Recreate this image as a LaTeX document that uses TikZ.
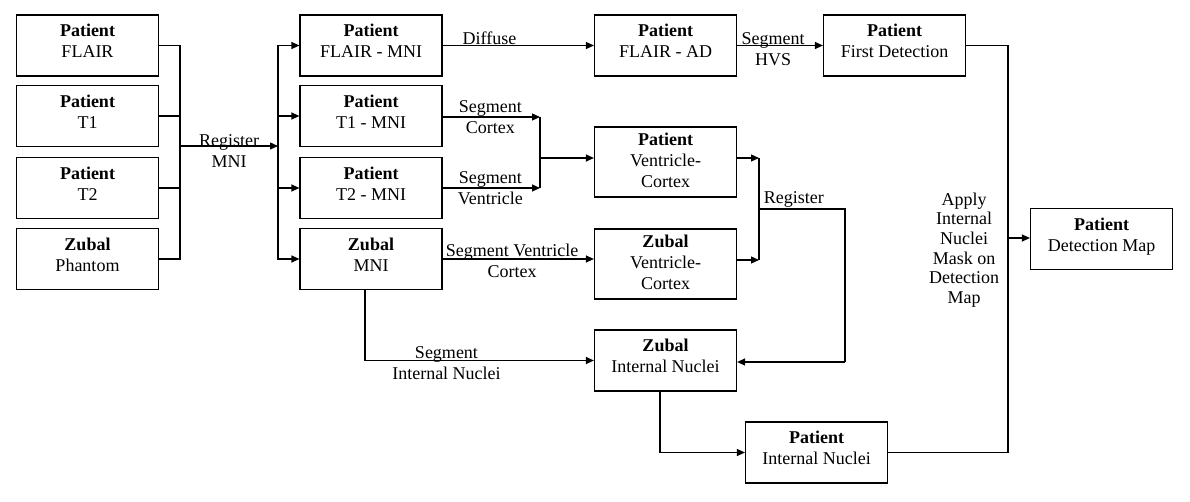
\documentclass[tikz,border=0pt]{standalone}
\usepackage{fontspec}
\setmainfont{Liberation Serif}
\usetikzlibrary{arrows.meta}
\begin{document}
\begin{tikzpicture}[x=1pt,y=-1pt,
  box/.style={draw, line width=1.2pt, minimum width=142pt, minimum height=61pt, inner sep=0pt, align=center, text depth=9pt, font=\fontsize{18}{21}\selectfont},
  tallbox/.style={box, minimum height=70pt, text depth=4pt},
  conn/.style={line width=1.2pt},
  arr/.style={conn, -{Triangle[length=8pt,width=7pt]}},
  lbl/.style={align=center, inner sep=0pt, font=\fontsize{18}{21}\selectfont}]
\useasboundingbox (0,0) rectangle (1190,502);
% left column
\node[box] (pf)  at (87.5,45.5) {\textbf{Patient}\\FLAIR};
\node[box] (pt1) at (87.5,116)  {\textbf{Patient}\\T1};
\node[box] (pt2) at (87.5,188)  {\textbf{Patient}\\T2};
\node[box] (zp)  at (87.5,259)  {\textbf{Zubal}\\Phantom};
% middle column
\node[box] (fm)  at (371,45.5) {\textbf{Patient}\\FLAIR - MNI};
\node[box] (t1m) at (371,116)  {\textbf{Patient}\\T1 - MNI};
\node[box] (t2m) at (371,188)  {\textbf{Patient}\\T2 - MNI};
\node[box] (zm)  at (371,259)  {\textbf{Zubal}\\MNI};
% third column
\node[box] (fad) at (665.5,45.5) {\textbf{Patient}\\FLAIR - AD};
\node[tallbox] (pvc) at (665.5,162) {\textbf{Patient}\\Ventricle-\\Cortex};
\node[tallbox] (zvc) at (665.5,264) {\textbf{Zubal}\\Ventricle-\\Cortex};
\node[box] (zin) at (665.5,360.5) {\textbf{Zubal}\\Internal Nuclei};
% right
\node[box] (fd)  at (894.5,45.5) {\textbf{Patient}\\First Detection};
\node[box] (pin) at (816.5,452.5) {\textbf{Patient}\\Internal Nuclei};
\node[box] (dm)  at (1101.5,239) {\textbf{Patient}\\Detection Map};
% junction coordinates
\coordinate (j1) at (180,146);
\coordinate (j2) at (278,146);
\coordinate (j3) at (540,117);
\coordinate (j4) at (540,188);
\coordinate (j5) at (540,158);
\coordinate (ra) at (759,158);
\coordinate (rb) at (759,260);
\coordinate (rc) at (759,209);
\coordinate (rd) at (845,209);
\coordinate (re) at (845,362);
\coordinate (rv) at (1008,238);
% register MNI
\draw[conn] (pf.east) -| (j1);
\draw[conn] (pt1.east) -| (j1);
\draw[conn] (pt2.east) -| (j1);
\draw[conn] (zp.east) -| (j1);
\draw[arr] (j1) -- node[lbl, pos=0.5, yshift=-5pt] {Register\\MNI} (j2);
\draw[arr] (j2) |- (fm.west);
\draw[arr] (j2) |- (t1m.west);
\draw[arr] (j2) |- (t2m.west);
\draw[arr] (j2) |- (zm.west);
% diffuse
\draw[arr] (fm.east) -- node[lbl, pos=0.31, above=-3pt, yshift=3pt] {Diffuse} (fad.west);
% segment cortex / ventricle
\draw[arr] (t1m.east |- j3) -- node[lbl, pos=0.49] {Segment\\Cortex} (j3);
\draw[arr] (t2m.east |- j4) -- node[lbl, pos=0.49] {Segment\\Ventricle} (j4);
\draw[conn] (j3) -- (j4);
\draw[arr] (j5) -- (j5 -| pvc.west);
% segment ventricle cortex
\draw[arr] (zm.east) -- node[lbl, pos=0.46, yshift=-2pt] {Segment Ventricle\\Cortex} (zm.east -| zvc.west);
% segment HVS
\draw[arr] (fad.east) -- node[lbl, pos=0.42, yshift=-3.5pt] {Segment\\HVS} (fd.west);
% register
\draw[arr] (pvc.east |- ra) -- (ra);
\draw[arr] (zvc.east |- rb) -- (rb);
\draw[conn] (ra) -- (rb);
\draw[conn] (rc) -- node[lbl, pos=0.05, anchor=south west, yshift=1pt] {Register} (rd) -- (re);
\draw[arr] (re) -- (re -| zin.east);
% segment internal nuclei
\draw[arr] ([xshift=-6pt]zm.south) |- node[lbl, pos=0.678, yshift=-3pt] {Segment\\Internal Nuclei} (zin.west);
\draw[arr] ([xshift=-5.5pt]zin.south) |- (pin.west);
% apply mask
\draw[conn] (fd.east) -| (rv);
\draw[conn] (pin.east) -| (rv);
\draw[arr] (rv) -- (rv -| dm.west);
\node[lbl, font=\fontsize{18}{19.6}\selectfont] (apply) at (964,250) {Apply\\Internal\\Nuclei\\Mask on\\Detection\\Map};
\end{tikzpicture}
\end{document}
